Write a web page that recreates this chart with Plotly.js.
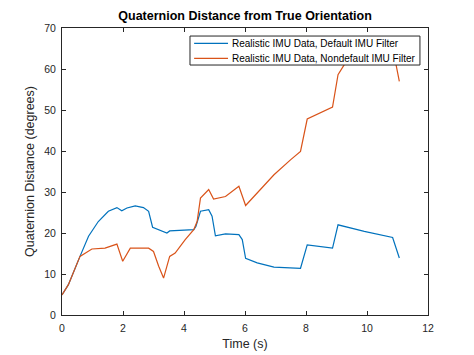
<!DOCTYPE html>
<html>
<head>
<meta charset="utf-8">
<script src="https://cdn.plot.ly/plotly-3.0.1.min.js"></script>
<style>html,body{margin:0;padding:0;background:#fff;}#chart{width:474px;height:355px;}</style>
</head>
<body>
<div id="chart"></div>
<script>
const seriesNames = ["Realistic IMU Data, Default IMU Filter", "Realistic IMU Data, Nondefault IMU Filter"];
const seriesColors = ['#0072BD', '#D95319'];
const defaultTime = [0,0.21,0.59,0.87,1.19,1.52,1.80,1.96,2.13,2.40,2.67,2.84,2.97,3.17,3.44,3.53,3.93,4.32,4.39,4.54,4.81,4.92,5.03,5.36,5.80,5.91,6.02,6.40,6.95,7.39,7.82,8.04,8.87,9.05,9.36,9.91,10.84,11.06];
const defaultDist = [4.9,7.4,14.3,19.2,22.8,25.3,26.2,25.4,26.1,26.6,26.2,25.3,21.4,20.8,20.0,20.5,20.6,20.8,21.6,25.3,25.7,24.1,19.3,19.8,19.6,18.4,13.8,12.7,11.7,11.5,11.4,17.1,16.3,22.0,21.4,20.4,18.9,13.9];
const nondefTime = [0,0.21,0.59,0.98,1.41,1.80,1.99,2.24,2.84,3.0,3.17,3.33,3.53,3.71,4.04,4.32,4.43,4.54,4.81,4.97,5.36,5.80,6.02,6.25,6.51,6.95,7.5,7.82,8.04,8.87,9.05,9.25,9.5,10.0,10.5,10.9,11.06];
const nondefDist = [4.9,7.4,14.3,16.1,16.3,17.3,13.1,16.3,16.3,15.5,11.9,9.0,14.3,15.1,18.4,20.8,22.8,28.5,30.6,28.3,28.9,31.4,26.7,28.6,30.6,34.2,37.9,39.9,47.8,50.7,58.6,61.0,63,64,65,63,57.0];
const xTicks = [0,2,4,6,8,10,12];
const yTicks = [0,10,20,30,40,50,60,70];

const FONT = 'Liberation Sans, Arial, sans-serif';
const traces = [
  {x: defaultTime, y: defaultDist, name: seriesNames[0], type: 'scatter', mode: 'lines', line: {color: seriesColors[0], width: 1.2}, showlegend: false},
  {x: nondefTime, y: nondefDist, name: seriesNames[1], type: 'scatter', mode: 'lines', line: {color: seriesColors[1], width: 1.2}, showlegend: false}
];
const axisCommon = {
  showgrid: false, zeroline: false, showline: true, linecolor: '#262626', linewidth: 1,
  mirror: 'ticks', ticks: 'inside', ticklen: 4, tickcolor: '#262626', ticklabelstandoff: 3,
  tickfont: {family: FONT, size: 10.5, color: '#262626'}
};
// custom compact legend (MATLAB style box)
const lg = {x0: 0.3497, x1: 0.978, y0: 0.871, y1: 0.972, lineX0: 0.361, lineX1: 0.4536, textX: 0.459, rows: [0.9467, 0.8944]};
const shapes = [{type: 'rect', xref: 'paper', yref: 'paper', x0: lg.x0, x1: lg.x1, y0: lg.y0, y1: lg.y1,
                 fillcolor: '#ffffff', line: {color: '#262626', width: 1}, layer: 'above'}];
const annotations = [];
seriesNames.forEach((n, i) => {
  shapes.push({type: 'line', xref: 'paper', yref: 'paper', x0: lg.lineX0, x1: lg.lineX1, y0: lg.rows[i], y1: lg.rows[i],
               line: {color: seriesColors[i], width: 1.2}, layer: 'above'});
  annotations.push({xref: 'paper', yref: 'paper', x: lg.textX, y: lg.rows[i], xanchor: 'left', yanchor: 'middle',
                    text: n, showarrow: false, font: {family: FONT, size: 10, color: '#000'}});
});
const layout = {
  width: 474, height: 355,
  margin: {l: 62, r: 46, t: 28, b: 40, pad: 0},
  paper_bgcolor: '#ffffff', plot_bgcolor: '#ffffff',
  title: {text: '<b>Quaternion Distance from True Orientation</b>', x: 0.517, xanchor: 'center', y: 0.955, yanchor: 'middle',
          font: {family: FONT, size: 12.5, color: '#000'}},
  xaxis: Object.assign({}, axisCommon, {range: [0, 12], tickvals: xTicks, ticktext: xTicks.map(String),
          title: {text: 'Time (s)', standoff: 6, font: {family: FONT, size: 12.5, color: '#262626'}}}),
  yaxis: Object.assign({}, axisCommon, {range: [0, 70], tickvals: yTicks, ticktext: yTicks.map(String),
          title: {text: 'Quaternion Distance (degrees)', standoff: 6, font: {family: FONT, size: 12.5, color: '#262626'}}}),
  showlegend: false,
  shapes: shapes,
  annotations: annotations
};
Plotly.newPlot('chart', traces, layout, {displayModeBar: false, staticPlot: true});
</script>
</body>
</html>
